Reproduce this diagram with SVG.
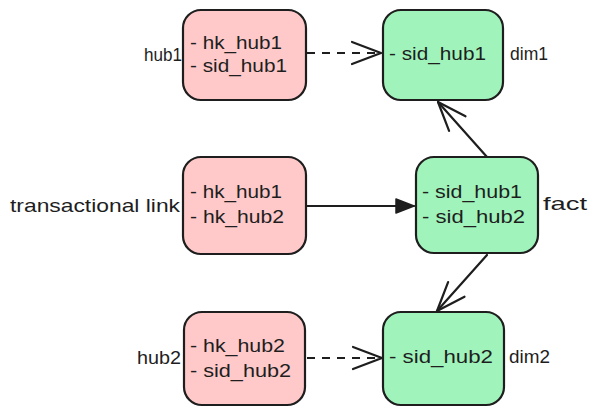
<svg xmlns="http://www.w3.org/2000/svg" width="598" height="415" viewBox="0 0 598 415">
<defs>
<style>
.box{stroke:#1e1e1e;stroke-width:2.2}
.pink{fill:#ffc9c9}
.green{fill:#a0f4bb}
text{font-family:"Liberation Sans","DejaVu Sans",sans-serif;font-size:19px;fill:#1e1e1e}
.c{fill:none;stroke:#1e1e1e;stroke-width:2.2;stroke-linecap:round}
.dash{stroke-dasharray:8 7;stroke-linecap:butt}
</style>
<marker id="open" markerUnits="userSpaceOnUse" markerWidth="40" markerHeight="30" viewBox="-32 -15 40 30" refX="0" refY="0" orient="auto" overflow="visible">
<path d="M-29,-11 L0,0 L-29,11" fill="none" stroke="#1e1e1e" stroke-width="2.2" stroke-linecap="round" stroke-linejoin="round"/>
</marker>
<marker id="solid" markerUnits="userSpaceOnUse" markerWidth="24" markerHeight="20" viewBox="-20 -10 24 20" refX="0" refY="0" orient="auto" overflow="visible">
<path d="M-18,-7 L0,0 L-18,7 Z" fill="#1e1e1e" stroke="#1e1e1e" stroke-width="1.5" stroke-linejoin="round"/>
</marker>
</defs>
<rect width="598" height="415" fill="#ffffff"/>
<g id="connectors">
<path class="c dash" d="M307,53 L381,53" marker-end="url(#open)"/>
<path class="c" d="M307,206 L414,206" marker-end="url(#solid)"/>
<path class="c" d="M487,157 L438,102" marker-end="url(#open)"/>
<path class="c" d="M487,255 L437,311" marker-end="url(#open)"/>
<path class="c dash" d="M307,358 L382,358" marker-end="url(#open)"/>
</g>
<g id="hub1">
<rect class="box pink" x="183" y="10" width="123" height="90" rx="18"/>
<text x="190" y="49" textLength="92" lengthAdjust="spacingAndGlyphs">- hk_hub1</text>
<text x="190" y="72" textLength="97" lengthAdjust="spacingAndGlyphs">- sid_hub1</text>
<text x="144" y="61" textLength="38" lengthAdjust="spacingAndGlyphs">hub1</text>
</g>
<g id="dim1">
<rect class="box green" x="383" y="10" width="120" height="90" rx="18"/>
<text x="389" y="60" textLength="97" lengthAdjust="spacingAndGlyphs">- sid_hub1</text>
<text x="510" y="60" textLength="38" lengthAdjust="spacingAndGlyphs">dim1</text>
</g>
<g id="transactional-link">
<rect class="box pink" x="183" y="157" width="123" height="97" rx="18"/>
<text x="190" y="198" textLength="92" lengthAdjust="spacingAndGlyphs">- hk_hub1</text>
<text x="190" y="223" textLength="94" lengthAdjust="spacingAndGlyphs">- hk_hub2</text>
<text x="10" y="212" textLength="170" lengthAdjust="spacingAndGlyphs">transactional link</text>
</g>
<g id="fact">
<rect class="box green" x="416" y="157" width="122" height="96" rx="18"/>
<text x="422" y="198" textLength="100" lengthAdjust="spacingAndGlyphs">- sid_hub1</text>
<text x="422" y="223" textLength="103" lengthAdjust="spacingAndGlyphs">- sid_hub2</text>
<text x="543" y="210" textLength="44" lengthAdjust="spacingAndGlyphs">fact</text>
</g>
<g id="hub2">
<rect class="box pink" x="184" y="312" width="121" height="93" rx="18"/>
<text x="190" y="352" textLength="95" lengthAdjust="spacingAndGlyphs">- hk_hub2</text>
<text x="190" y="377" textLength="101" lengthAdjust="spacingAndGlyphs">- sid_hub2</text>
<text x="137" y="364" textLength="44" lengthAdjust="spacingAndGlyphs">hub2</text>
</g>
<g id="dim2">
<rect class="box green" x="383" y="312" width="121" height="93" rx="18"/>
<text x="389" y="363" textLength="104" lengthAdjust="spacingAndGlyphs">- sid_hub2</text>
<text x="509" y="363" textLength="41" lengthAdjust="spacingAndGlyphs">dim2</text>
</g>
</svg>
